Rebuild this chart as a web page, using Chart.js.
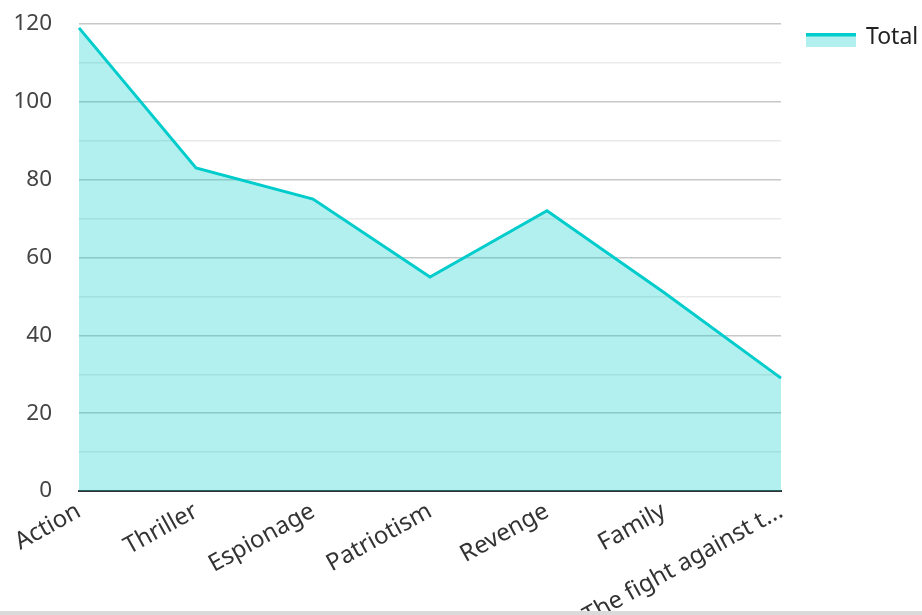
<!DOCTYPE html>
<html>
<head>
<meta charset="utf-8">
<script src="https://cdn.jsdelivr.net/npm/chart.js@4/dist/chart.umd.min.js"></script>
<style>
html,body{margin:0;padding:0;background:#fff;overflow:hidden;}
#wrap{position:relative;width:922px;height:611px;}
#strip{width:922px;height:4px;background:#dadada;}
</style>
</head>
<body>
<div id="wrap"><canvas id="c"></canvas></div>
<div id="strip"></div>
<script>
const categories = ["Action","Thriller","Espionage","Patriotism","Revenge","Family","The fight against terrorism"];
const seriesLabel = "Total";
const totals = [119, 83, 75, 55, 72, 51, 29];
const yTicks = [0, 20, 40, 60, 80, 100, 120];

const lineColor = 'rgb(0,204,204)';
const fillColor = 'rgba(0,204,204,0.3)';
const FONT = '"Noto Sans", "Open Sans", sans-serif';

const legendPlugin = {
  id: 'sideLegend',
  afterDraw(chart) {
    const ctx = chart.ctx;
    const ds = chart.data.datasets[0];
    const x = 806, y = 33, w = 50, h = 14;
    ctx.save();
    ctx.fillStyle = fillColor;
    ctx.fillRect(x, y, w, h);
    ctx.fillStyle = lineColor;
    ctx.fillRect(x, y, w, 3.5);
    ctx.fillStyle = '#222';
    ctx.font = '23px ' + FONT;
    ctx.textBaseline = 'middle';
    ctx.textAlign = 'left';
    ctx.fillText(ds.label, 866, 37);
    ctx.restore();
  }
};

new Chart(document.getElementById('c'), {
  type: 'line',
  data: {
    labels: categories,
    datasets: [{
      label: seriesLabel,
      data: totals,
      borderColor: lineColor,
      backgroundColor: fillColor,
      borderWidth: 3,
      pointRadius: 0,
      tension: 0,
      fill: 'origin'
    }]
  },
  options: {
    responsive: true,
    maintainAspectRatio: false,
    animation: false,
    layout: { padding: { left: 0, right: 141, top: 24, bottom: 0 } },
    plugins: { legend: { display: false }, tooltip: { enabled: false } },
    scales: {
      x: {
        offset: false,
        grid: { display: false, drawTicks: false },
        border: { display: true, color: '#333', width: 2 },
        ticks: {
          color: '#333',
          font: { family: FONT, size: 24 },
          minRotation: 29, maxRotation: 29,
          padding: 6,
          autoSkip: false,
          callback: function(v) {
            const s = this.getLabelForValue(v);
            return s.length > 22 ? s.slice(0, 19) + '...' : s;
          }
        },
        afterFit(scale) { scale.height = 120; }
      },
      y: {
        min: 0, max: 120,
        grid: {
          drawTicks: true,
          tickLength: 27,
          tickColor: 'rgba(0,0,0,0)',
          lineWidth: 1.5,
          color: (ctx) => (ctx.tick && ctx.tick.value % 20 === 0) ? '#c8c8c8' : '#e9e9e9'
        },
        border: { display: false },
        ticks: {
          stepSize: 10,
          padding: 0,
          color: '#444',
          font: { family: FONT, size: 22.5 },
          callback: (v) => yTicks.includes(v) ? String(v) : ''
        },
        afterFit(scale) { scale.width = 79; }
      }
    }
  },
  plugins: [legendPlugin]
});
</script>
</body>
</html>
